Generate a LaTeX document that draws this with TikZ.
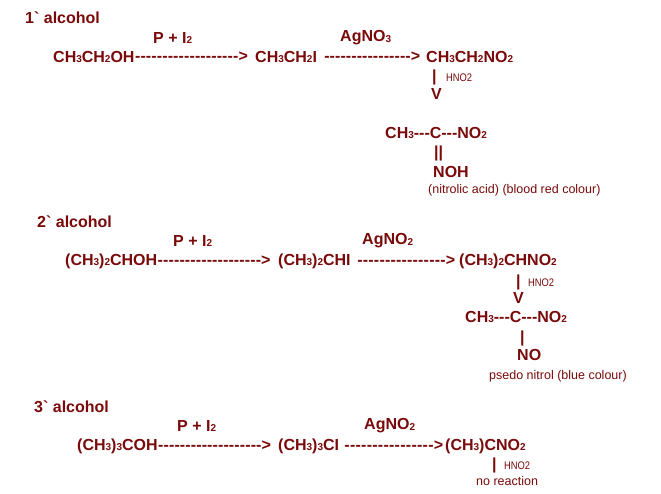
\documentclass[tikz,border=0pt]{standalone}
\usepackage{fontspec}
\setmainfont{Liberation Sans}
\newfontfamily\narrowf{Liberation Sans}[FakeStretch=0.85]
\definecolor{ink}{HTML}{7A0A0A}
\newcommand{\sbs}[1]{{\fontsize{10}{10}\selectfont\raisebox{-0.5pt}{#1}}}
\newcommand{\arr}[1]{\hbox to #1pt{\xleaders\hbox{-}\hfill>}}
\newcommand{\ddd}{-{}-{}-}
\begin{document}
\begin{tikzpicture}[x=1pt,y=-1pt,
  t/.style={inner sep=0pt,anchor=west,text=ink,font=\fontsize{16}{16}\selectfont\bfseries},
  sm/.style={inner sep=0pt,anchor=west,text=ink,font=\narrowf\fontsize{11}{11}\selectfont},
  note/.style={inner sep=0pt,anchor=west,text=ink,font=\fontsize{12.5}{12}\selectfont}]
\useasboundingbox[fill=white] (0,0) rectangle (661,493);
% row 1
\node[t] (h1) at (25,18) {1\textasciigrave{} alcohol};
\node[t] (r1a) at (153,38) {P + I\sbs{2}};
\node[t] (r1b) at (340,38) {AgNO\sbs{3}};
\node[t] (a1) at (53,57) {CH\sbs{3}CH\sbs{2}OH};
\node[t] (d1) at (a1.east) {\arr{113}};
\node[t] (b1) at (255,57) {CH\sbs{3}CH\sbs{2}I};
\node[t] (e1) at (324,57) {\arr{96}};
\node[t] (c1) at (426,57) {CH\sbs{3}CH\sbs{2}NO\sbs{2}};
\node[t] (p1) at (432,77) {|};
\node[sm] (hn1) at (446,78) {HNO2};
\node[t] (v1) at (431,94) {V};
\node[t] (f1) at (385,133) {CH\sbs{3}\ddd C\ddd NO\sbs{2}};
\node[t] (q1) at (434,153) {||};
\node[t] (n1) at (433,172) {NOH};
\node[note] (m1) at (428,190) {(nitrolic acid) (blood red colour)};
% row 2
\node[t] (h2) at (37,222) {2\textasciigrave{} alcohol};
\node[t] (r2a) at (173,241) {P + I\sbs{2}};
\node[t] (r2b) at (362,241) {AgNO\sbs{2}};
\node[t] (a2) at (65,261) {(CH\sbs{3})\sbs{2}CHOH};
\node[t] (d2) at (a2.east) {\arr{113}};
\node[t] (b2) at (278,261) {(CH\sbs{3})\sbs{2}CHI};
\node[t] (e2) at (357,261) {\arr{98}};
\node[t] (c2) at (459,261) {(CH\sbs{3})\sbs{2}CHNO\sbs{2}};
\node[t] (p2) at (516,282) {|};
\node[sm] (hn2) at (528,283) {HNO2};
\node[t] (v2) at (513,298) {V};
\node[t] (f2) at (465,317) {CH\sbs{3}\ddd C\ddd NO\sbs{2}};
\node[t] (q2) at (520,338) {|};
\node[t] (n2) at (517,355) {NO};
\node[note] (m2) at (489,376) {psedo nitrol (blue colour)};
% row 3
\node[t] (h3) at (34,407) {3\textasciigrave{} alcohol};
\node[t] (r3a) at (177,426) {P + I\sbs{2}};
\node[t] (r3b) at (364,426) {AgNO\sbs{2}};
\node[t] (a3) at (77,446) {(CH\sbs{3})\sbs{3}COH};
\node[t] (d3) at (a3.east) {\arr{113}};
\node[t] (b3) at (278,446) {(CH\sbs{3})\sbs{3}CI};
\node[t] (e3) at (344,446) {\arr{99}};
\node[t] (c3) at (445,446) {(CH\sbs{3})CNO\sbs{2}};
\node[t] (p3) at (492,465) {|};
\node[sm] (hn3) at (504,466) {HNO2};
\node[note] (m3) at (476,481) {no reaction};
\end{tikzpicture}
\end{document}
